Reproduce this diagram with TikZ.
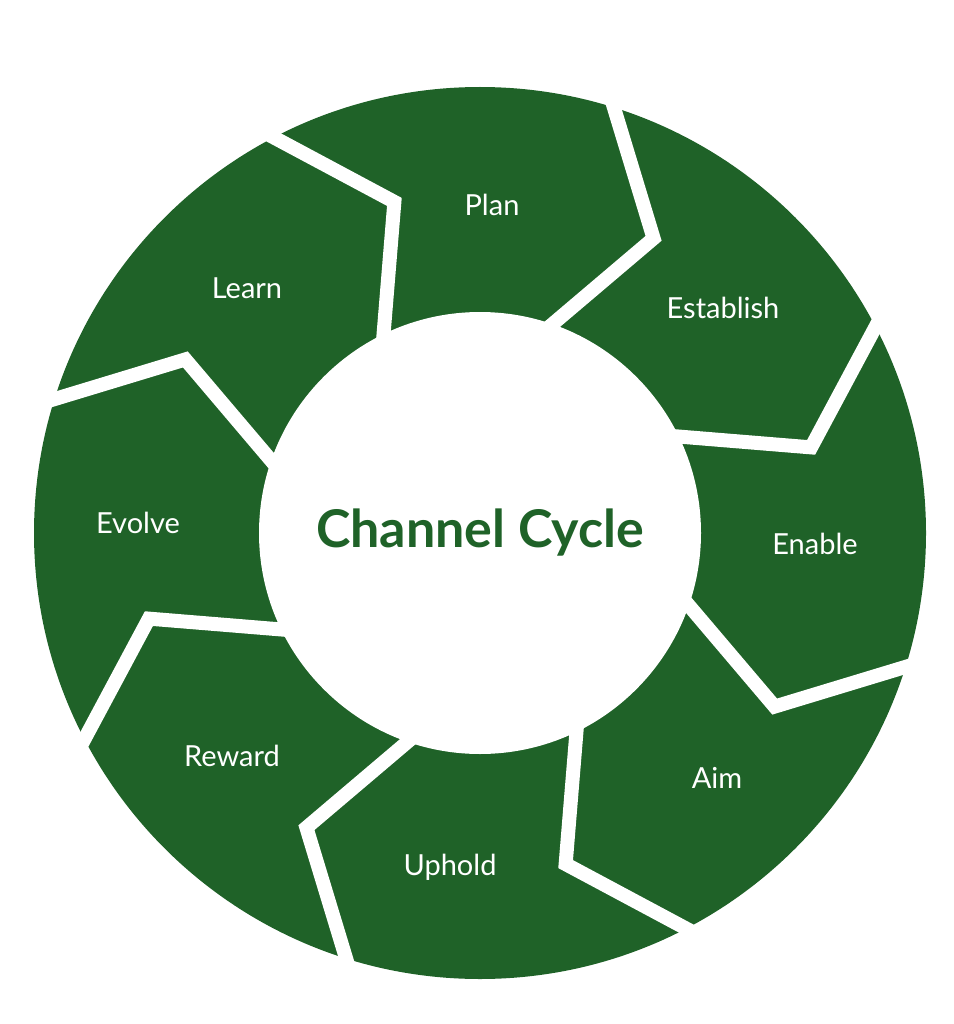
\documentclass[tikz,border=0pt]{standalone}
\usepackage{fontspec}
\setmainfont{Lato}
\definecolor{cg}{RGB}{31,98,40}
\begin{document}
\begin{tikzpicture}[x=1pt,y=-1pt,
  gap/.style={white,line width=14pt,line join=miter},
  lbl/.style={white,font=\fontsize{29}{32}\selectfont}]
\useasboundingbox (0,0) rectangle (953,1024);
\def\cx{480}\def\cy{533}
\coordinate (C) at (\cx,\cy);
\fill[cg] (C) circle (446);
\foreach \t in {15.5,60.5,...,360}{
  \draw[gap] ({\cx+470*sin(\t)},{\cy-470*cos(\t)}) -- ({\cx+342*sin(\t+15)},{\cy-342*cos(\t+15)}) -- ({\cx+200*sin(\t)},{\cy-200*cos(\t)});
}
\node[circle,fill=white,minimum size=442pt,inner sep=0pt] (hub) at (C) {};
\node[text=cg,font=\bfseries\fontsize{52}{56}\selectfont] (title) at (C) {Channel Cycle};
\foreach \n/\x/\y in {Plan/492/205,Establish/723/308,Enable/815/544,Aim/717/778,Uphold/450/867,Reward/232/756,Evolve/138/523,Learn/247/288}{
  \node[lbl] (\n) at (\x,\y) {\n};
}
\end{tikzpicture}
\end{document}
